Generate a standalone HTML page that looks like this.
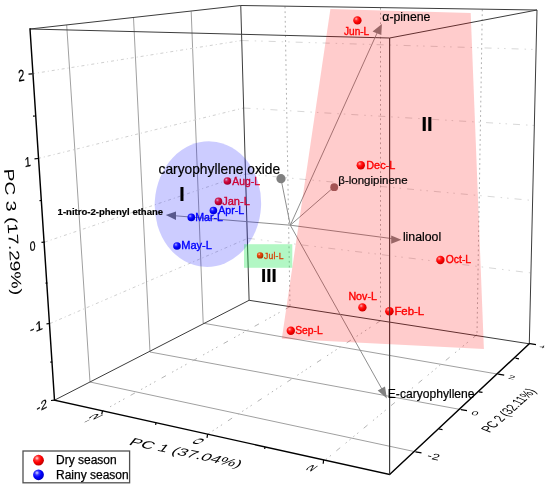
<!DOCTYPE html>
<html><head><meta charset="utf-8"><title>PCA 3D biplot</title>
<style>
html,body{margin:0;padding:0;background:#fff;}
body{width:550px;height:488px;overflow:hidden;}
svg{display:block;font-family:"Liberation Sans",sans-serif;}
.g{stroke:#a0a0a0;stroke-width:1;fill:none;}
.d{stroke:#b0b0b0;stroke-width:1;fill:none;stroke-dasharray:1.8 3;}
.dd{stroke:#d8d8d8;stroke-width:1;fill:none;stroke-dasharray:7 6 1.5 5 1.5 6;}
.df{stroke:#b4b4b4;stroke-width:1;fill:none;stroke-dasharray:5 7 1.5 3.5 1.5 3.5 1.5 3.5 1.5 7;}
.dz{stroke:#d0d0d0;stroke-width:1;fill:none;stroke-dasharray:3 3 1 3;}
.e{stroke:#3c3c3c;stroke-width:1;fill:none;}
.ax{stroke:#000;stroke-width:1.45;fill:none;stroke-linecap:square;}
.tk{stroke:#000;stroke-width:1.2;fill:none;}
.v{stroke:#888888;stroke-width:0.95;fill:none;}
.r{fill:#ff0000;font-size:10.4px;stroke:#ff0000;stroke-width:0.35;}
.b{fill:#0000ff;font-size:10.4px;stroke:#0000ff;stroke-width:0.35;}
</style></head><body>
<svg width="550" height="488" viewBox="0 0 550 488">
<defs>
<radialGradient id="gr" cx="0.36" cy="0.32" r="0.68"><stop offset="0" stop-color="#ffdcdc"/><stop offset="0.3" stop-color="#ff3434"/><stop offset="0.6" stop-color="#ff0000"/><stop offset="1" stop-color="#c00000"/></radialGradient>
<radialGradient id="gb" cx="0.36" cy="0.32" r="0.68"><stop offset="0" stop-color="#dcdcff"/><stop offset="0.3" stop-color="#3434ff"/><stop offset="0.6" stop-color="#0000ff"/><stop offset="1" stop-color="#0000c0"/></radialGradient>
<radialGradient id="go" cx="0.36" cy="0.32" r="0.68"><stop offset="0" stop-color="#ffd0b0"/><stop offset="0.3" stop-color="#e85018"/><stop offset="0.6" stop-color="#d84008"/><stop offset="1" stop-color="#a03000"/></radialGradient>
</defs>
<rect width="550" height="488" fill="#fff"/>

<!-- left wall: Y major solid -->
<path class="g" d="M66.7 25 L90 382 L415.5 451.8 M133.5 17.7 L150 352 L461 409.6 M191.2 11.4 L203.2 323.2 L498.2 374.2"/>
<!-- Z dotted left wall -->
<path class="dz" d="M32 73.8 L241.7 40.5 M38 158.5 L243.5 108 M45 242 L245.7 174 M50 323.5 L247.9 238.3"/>
<!-- Z dash right wall -->
<path class="dd" d="M241.7 40.5 L536.2 49.5 M243.5 108 L534.6 125.5 M245.7 174 L533 200.5 M247.9 238.3 L531.5 273"/>
<!-- X dotted: right wall + floor -->
<path class="d" d="M285 6.5 L290 306.6 M380.5 8 L380.5 320.7 M482.3 9.5 L477 334.6"/>
<path class="df" d="M290 306.6 L102.5 411 M380.5 320.7 L207.6 434.2 M477 334.6 L323.6 461.4"/>

<!-- box edges -->
<path class="e" d="M30 29 L240.75 5.5 L537 10 L389.6 38 Z M240.75 5.5 L249.1 300.3 L54.5 400.2 M249.1 300.3 L529.3 343.8 L537 10 M389.6 38 L389.6 474.5"/>
<!-- axes -->
<path class="ax" d="M30 29 L54.5 400.2 L389.6 474.5 L529.3 343.8"/>

<!-- vectors -->
<path class="v" d="M290.3 225.2 L281 179 M290.3 225.2 L334 187 M290.3 225.2 L377.5 32 M290.3 225.2 L395 239 M290.3 225.2 L383 391 M290.3 225.2 L172 215.5"/>
<circle cx="281" cy="178.7" r="4.6" fill="#808080"/>
<circle cx="334.2" cy="187.2" r="3.9" fill="#8c6a6a"/>
<polygon points="381.9,23.9 372.6,31.4 381.3,35" fill="#808080"/>
<polygon points="401.4,239.7 391.2,235.4 391.2,243.8" fill="#808080"/>
<polygon points="386.9,398.6 377.7,390.4 385,386.5" fill="#808080"/>
<polygon points="165.8,215 176,211.5 176,220" fill="#707070"/>

<!-- points -->
<g>
<circle cx="357.4" cy="20.4" r="4.2" fill="url(#gr)"/>
<circle cx="360.8" cy="165.3" r="4.2" fill="url(#gr)"/>
<circle cx="440.4" cy="260" r="4.2" fill="url(#gr)"/>
<circle cx="362.4" cy="307.4" r="4.2" fill="url(#gr)"/>
<circle cx="389.4" cy="311.2" r="4.3" fill="url(#gr)"/>
<circle cx="290.8" cy="330.8" r="4.2" fill="url(#gr)"/>
<circle cx="227.4" cy="181" r="3.8" fill="url(#gr)"/>
<circle cx="218.5" cy="201.4" r="3.8" fill="url(#gr)"/>
<circle cx="213.4" cy="210.6" r="3.8" fill="url(#gb)"/>
<circle cx="191.3" cy="217.4" r="3.8" fill="url(#gb)"/>
<circle cx="177" cy="246" r="3.8" fill="url(#gb)"/>
</g>
<!-- point labels -->
<g>
<text class="r" x="344.0" y="34.8" textLength="25.2" lengthAdjust="spacingAndGlyphs">Jun-L</text>
<text class="r" x="366.3" y="168.9" textLength="28.9" lengthAdjust="spacingAndGlyphs">Dec-L</text>
<text class="r" x="445.8" y="263.4" textLength="25.3" lengthAdjust="spacingAndGlyphs">Oct-L</text>
<text class="r" x="348.4" y="299.8" textLength="28.5" lengthAdjust="spacingAndGlyphs">Nov-L</text>
<text class="r" x="394.4" y="315.3" textLength="29.8" lengthAdjust="spacingAndGlyphs">Feb-L</text>
<text class="r" x="295.2" y="334.3" textLength="27.5" lengthAdjust="spacingAndGlyphs">Sep-L</text>
<text class="r" x="232.3" y="184.6" textLength="27.6" lengthAdjust="spacingAndGlyphs">Aug-L</text>
<text class="r" x="222.2" y="204.8" textLength="27.6" lengthAdjust="spacingAndGlyphs">Jan-L</text>
<text class="b" x="218.3" y="213.7" textLength="25.9" lengthAdjust="spacingAndGlyphs">Apr-L</text>
<text class="b" x="195.2" y="220.6" textLength="27.8" lengthAdjust="spacingAndGlyphs">Mar-L</text>
<text class="b" x="181.2" y="249.3" textLength="30.7" lengthAdjust="spacingAndGlyphs">May-L</text>
</g>
<path class="e" d="M389.6 38 L389.6 474.5"/>
<!-- overlays -->
<ellipse cx="207.9" cy="204.1" rx="53.2" ry="62.8" transform="rotate(3.1 207.9 204.1)" fill="rgba(0,0,255,0.2)"/>
<polygon points="330.4,9 470.7,13 483.9,348.9 281.8,338.8" fill="rgba(255,0,0,0.2)"/>
<rect x="244" y="244.2" width="48.3" height="23.6" fill="rgba(0,230,60,0.3)"/>

<circle cx="260.1" cy="255.4" r="3.2" fill="url(#go)"/>
<text x="264" y="258.8" font-size="8.6" fill="#d84208" stroke="#d84208" stroke-width="0.3" letter-spacing="0.2">Jul-L</text>
<!-- loadings labels -->
<g fill="#000" stroke="#000" stroke-width="0.2">
<text x="158.6" y="173.6" font-size="13.75">caryophyllene oxide</text>
<text x="382.3" y="21.4" font-size="12.3">α-pinene</text>
<text x="338.3" y="184" font-size="11.5">β-longipinene</text>
<text x="402.9" y="240.7" font-size="12.3">linalool</text>
<text x="387.8" y="398.4" font-size="12.1">E-caryophyllene</text>
<text x="57.6" y="214.6" font-size="9.55" font-weight="bold">1-nitro-2-phenyl ethane</text>
<text x="179.3" y="201.4" font-size="19.5" font-weight="bold">I</text>
<text x="421.5" y="131" font-size="20" font-weight="bold">II</text>
<text x="261" y="281.8" font-size="18.8" font-weight="bold">III</text>
</g>

<!-- ticks Z -->
<path class="tk" d="M32 73.8 l-3.5 0.3 M38 158.5 l-3.5 0.3 M45 242 l-3.5 0.3 M50 323.5 l-3.5 0.3 M54.5 400.2 l-3.5 0.3 M35 116 l-2 0.2 M41.5 200.5 l-2 0.2 M47.5 283 l-2 0.2 M52.3 362 l-2 0.2"/>
<!-- ticks X -->
<path class="tk" d="M102.5 410.8 l-0.8 3.6 M207.6 434.2 l-0.6 3.6 M323.6 460 l-0.4 3.8 M156 422.7 l-0.4 2.2 M265 446.8 l-0.3 2.2"/>
<!-- ticks Y -->
<path class="tk" d="M415.5 451.8 l6 1 M461 409.6 l6 1 M498.2 374.2 l6 1 M530 343.6 l6 1 M439 429 l3.5 0.6 M479 391.8 l3.5 0.6 M515.5 358.2 l3.5 0.6"/>

<!-- tick labels Z -->
<g fill="#000" stroke="#000" stroke-width="0.25">
<text transform="matrix(0.8,-0.12,0.07,1.15,18.5,81.6)" font-size="14">2</text>
<text transform="matrix(0.8,-0.2,0.066,1,25,167.2)" font-size="13.5">1</text>
<text transform="matrix(0.8,-0.27,0.066,1,30,251.6)" font-size="13">0</text>
<text transform="matrix(1.0,-0.43,0.066,1.0,30.3,334.3)" font-size="13" letter-spacing="1">-1</text>
<text transform="matrix(0.9,-0.46,0.066,1.0,36.8,412.8)" font-size="12.5" letter-spacing="0.6">-2</text>
</g>
<!-- tick labels X -->
<g fill="#000">
<text transform="matrix(1.66,-0.84,0.78,0.17,86.3,423.3)" font-size="12">-2</text>
<text transform="matrix(1.4,-0.9,0.8,0.18,197,445)" font-size="12">0</text>
<text transform="matrix(1.3,-1.0,0.7,0.16,310,472)" font-size="12">2</text>
</g>
<!-- tick labels Y -->
<g fill="#000">
<text transform="matrix(1.2,0.26,-0.32,0.76,426.5,458)" font-size="11">-2</text>
<text transform="matrix(1.1,0.22,-0.3,0.5,470.5,414.5)" font-size="11">0</text>
<text transform="matrix(1.05,0.2,-0.28,0.45,507.5,378.5)" font-size="11">2</text>
<text transform="matrix(1.0,0.2,-0.25,0.4,539,347.5)" font-size="9">4</text>
</g>

<!-- axis titles -->
<g fill="#000">
<text transform="translate(4,169) rotate(86.3) scale(1.38,1)" font-size="14">PC 3 (17.29%)</text>
<text transform="matrix(1.3,0.275,-0.62,0.75,128,444.5)" font-size="13">PC 1 (37.04%)</text>
<text transform="matrix(0.52,-0.46,0.95,0.40,489.5,433)" font-size="14">PC 2 (32.11%)</text>
</g>

<!-- legend -->
<rect x="23" y="451" width="106.6" height="31.8" fill="#fff" stroke="#505050" stroke-width="1.3"/>
<circle cx="38.5" cy="460.2" r="5.4" fill="url(#gr)"/>
<circle cx="38.5" cy="474.8" r="5.4" fill="url(#gb)"/>
<text x="56" y="464" font-size="12" fill="#000" stroke="#000" stroke-width="0.25">Dry season</text>
<text x="56" y="478.6" font-size="12" fill="#000" stroke="#000" stroke-width="0.25">Rainy season</text>
</svg>
</body></html>
